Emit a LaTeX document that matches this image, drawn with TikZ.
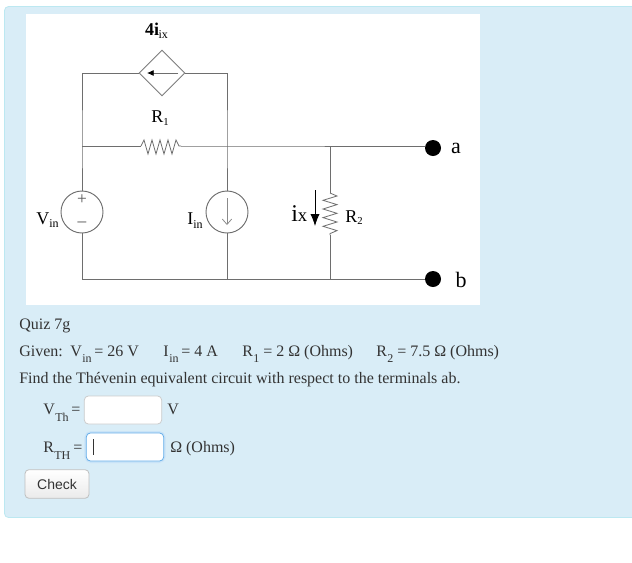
\documentclass[tikz,border=0pt]{standalone}
\usepackage{fontspec}
\setmainfont{Liberation Serif}
\setsansfont{Liberation Sans}
\usetikzlibrary{shapes.geometric,arrows.meta}
\definecolor{panel}{HTML}{D9EDF7}
\definecolor{panelb}{HTML}{BCE8F1}
\definecolor{wire}{HTML}{6E6E6E}
\definecolor{txt}{HTML}{333333}
\definecolor{glow}{HTML}{66AFE9}
\tikzset{
  x=0.75pt,y=-0.75pt,
  wireline/.style={draw=wire,line width=0.75pt},
  source/.style={circle,draw=wire,line width=0.7pt,minimum size=31.5pt,inner sep=0pt,fill=white},
  dep/.style={diamond,draw=wire!90,line width=0.7pt,minimum width=34.5pt,minimum height=34.5pt,inner sep=0pt,aspect=1,fill=white},
  term/.style={circle,fill=black,minimum size=12pt,inner sep=0pt},
  clab/.style={inner sep=0pt,text=black,font=\fontsize{13.5}{14}\selectfont},
  qtext/.style={inner sep=0pt,anchor=base west,text=txt,font=\fontsize{12}{14}\selectfont},
  inbox/.style={draw=#1,line width=0.6pt,fill=white,rounded corners=3pt,minimum width=58pt,minimum height=21pt,inner sep=0pt},
  res/.style={draw=wire,line width=0.6pt,line join=miter}
}
\begin{document}
\begin{tikzpicture}
\useasboundingbox (0,0) rectangle (632,562);
\fill[white] (0,0) rectangle (632,562);
\path[fill=panel,draw=panelb,line width=0.6pt,rounded corners=3pt] (4.5,6.5) -- (640,6.5) -- (640,517.5) -- (4.5,517.5) -- cycle;
\fill[white] (26,14) rectangle (480,305);

% circuit nodes
\coordinate (tl) at (82,73);
\coordinate (tr) at (227,73);
\coordinate (ml) at (82,146);
\coordinate (mr) at (227,146);
\coordinate (mm) at (330,146);
\coordinate (bl) at (82,279);
\coordinate (br) at (227,279);
\coordinate (bm) at (330,279);
\coordinate (r1a) at (141,146);
\coordinate (r1b) at (181,146);
\coordinate (r2a) at (330,193);
\coordinate (r2b) at (330,235);
\node[dep] (dp) at (162,73) {};
\node[source] (vs) at (82,212) {};
\node[source] (is) at (227,212) {};
\node[term] (ta) at (433,148) {};
\node[term] (tb) at (433,279) {};

\draw[wireline] (dp.east) -- (tr) -- (mr) -- (is.north);
\draw[wireline] (dp.west) -- (tl) -- (ml) -- (vs.north);
\draw[wireline] (vs.south) -- (bl) -- (tb);
\draw[wireline] (is.south) -- (br);
\draw[wireline] (ml) -- (r1a);
\draw[wireline] (r1b) -- (mr) -- (ta.west |- mr);
\draw[wireline] (mm) -- (r2a);
\draw[wireline] (r2b) -- (bm);

% R1 zigzag
\draw[res] (r1a) -- ++(3,-6) -- ++(4,14) -- ++(4,-14) -- ++(4,14) -- ++(4,-14) -- ++(4,14) -- ++(4,-14) -- ++(4,14) -- ++(4,-14) -- ++(3,6) -- (r1b);
% R2 zigzag
\draw[res] (r2a) -- ++(7,3) -- ++(-14,4.3) -- ++(14,4.3) -- ++(-14,4.4) -- ++(14,4.3) -- ++(-14,4.3) -- ++(14,4.4) -- ++(-14,4.3) -- ++(14,4.3) -- ++(-7,3) -- (r2b);

% arrows
\coordinate (da) at (178,73);
\coordinate (db) at (147,73);
\draw[draw=wire,line width=0.6pt,-{Latex[length=5pt,width=4.5pt,black]}] (da) -- (db);
\coordinate (ia) at (227,198);
\coordinate (ib) at (227,225);
\draw[draw=wire!80,line width=0.6pt,-{Straight Barb[length=4pt,width=7pt]}] (ia) -- (ib);
\coordinate (xa) at (315,190);
\coordinate (xb) at (315,226);
\draw[black,line width=0.7pt,-{Latex[length=9pt,width=7pt]}] (xa) -- (xb);
\node[inner sep=0pt,text=wire!80!black,font=\fontsize{13}{13}\selectfont] (plus) at (82,200) {+};
\node[inner sep=0pt,text=wire!80!black,font=\fontsize{13}{13}\selectfont] (minus) at (82,224) {–};

% circuit labels
\node[clab] (l4i) at (156.5,31) {\textbf{4i}\kern-0.3pt\raisebox{-2pt}{\fontsize{9}{9}\selectfont ix}};
\node[clab] (lr1) at (160,118) {R\raisebox{-2pt}{\fontsize{8}{8}\selectfont 1}};
\node[clab] (lv) at (47.5,220) {V\raisebox{-2.5pt}{\fontsize{9}{9}\selectfont in}};
\node[clab] (li) at (195,220.5) {I\raisebox{-2.5pt}{\fontsize{9}{9}\selectfont in}};
\node[clab,anchor=base west] (lix) at (291,221) {\fontsize{18}{18}\selectfont i\fontsize{14}{14}\selectfont x};
\node[clab] (lr2) at (354,217.5) {R\raisebox{-2pt}{\fontsize{8}{8}\selectfont 2}};
\node[clab,font=\fontsize{16.5}{17}\selectfont] (la) at (456,148.5) {a};
\node[clab,font=\fontsize{16.5}{17}\selectfont] (lb) at (461,279.5) {b};

% question text
\node[qtext] (q1) at (19,329) {Quiz 7g};
\node[qtext] (g) at (19,356) {Given:};
\node[qtext] (gv) at (70,356) {V};
\node[qtext] (gvs) at (82,362.5) {\fontsize{9}{9}\selectfont in};
\node[qtext] (gve) at (94,356) {= 26 V};
\node[qtext] (gi) at (163,356) {I};
\node[qtext] (gis) at (169,362.5) {\fontsize{9}{9}\selectfont in};
\node[qtext] (gie) at (181,356) {= 4 A};
\node[qtext] (gr) at (242,356) {R};
\node[qtext] (grs) at (253,362.5) {\fontsize{9}{9}\selectfont 1};
\node[qtext] (gre) at (263,356) {= 2 Ω (Ohms)};
\node[qtext] (gq) at (376,356) {R};
\node[qtext] (gqs) at (387,362.5) {\fontsize{9}{9}\selectfont 2};
\node[qtext] (gqe) at (397,356) {= 7.5 Ω (Ohms)};
\node[qtext] (f) at (19,383) {Find the Thévenin equivalent circuit with respect to the terminals ab.};

\node[qtext] (vth) at (43,414.5) {V};
\node[qtext] (vths) at (55,421.5) {\fontsize{9}{9}\selectfont Th};
\node[qtext] (vthe) at (71,414.5) {=};
\node[inbox=black!20] (b1) at (123,410) {};
\node[qtext] (vu) at (167,414.5) {V};
\node[qtext] (rth) at (43,452) {R};
\node[qtext] (rths) at (54,459) {\fontsize{9}{9}\selectfont TH};
\node[qtext] (rthe) at (73,452) {=};
\node[draw=glow!35,line width=2pt,rounded corners=4pt,minimum width=59pt,minimum height=22pt,inner sep=0pt] (b2g) at (125,447) {};
\node[inbox=glow] (b2) at (125,447) {};
\coordinate (ca) at (93.5,439);
\coordinate (cb) at (93.5,455);
\draw[black!80,line width=0.6pt] (ca) -- (cb);
\node[qtext] (ru) at (170,452) {Ω (Ohms)};

\node[draw=black!25,line width=0.6pt,rounded corners=3pt,top color=white,bottom color=black!8,minimum width=48pt,minimum height=21.5pt,inner sep=0pt,text=txt,font=\sffamily\fontsize{10.5}{12}\selectfont] (chk) at (57,484) {Check};
\end{tikzpicture}
\end{document}
